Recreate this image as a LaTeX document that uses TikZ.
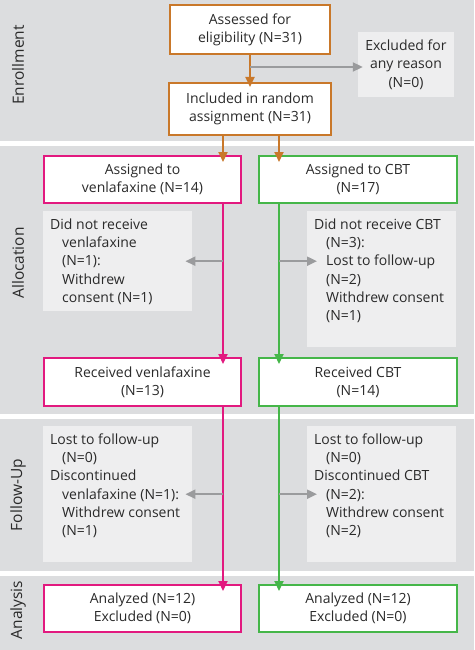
\documentclass[tikz,border=0pt]{standalone}
\usepackage{fontspec}
\setmainfont{Open Sans}
\usetikzlibrary{arrows.meta,calc}
\definecolor{band}{HTML}{DCDDDF}
\definecolor{gboxc}{HTML}{EEEEEF}
\definecolor{txt}{HTML}{2A2A2A}
\definecolor{orng}{HTML}{C9782A}
\definecolor{mag}{HTML}{E2197F}
\definecolor{grn}{HTML}{45B649}
\definecolor{garr}{HTML}{9A9B9D}
\newcommand\bt{\fontsize{14}{18.3}\selectfont}
\newcommand\ind{\hspace*{12pt}}
\newcommand\gtext[3]{\parbox[c][#1][t]{#2}{\raggedright\hyphenpenalty=10000\rule{0pt}{18pt}#3}}
\begin{document}
\begin{tikzpicture}[x=1pt,y=-1pt,
  lab/.style={rotate=90, font=\fontsize{15.5}{18}\selectfont, text=txt},
  wbox/.style={draw=#1, line width=2pt, fill=white, align=center, inner sep=0pt, font=\bt, text=txt},
  gbox/.style={fill=gboxc, inner xsep=7pt, inner ysep=0pt, anchor=north west, text=txt, font=\bt, align=left},
  arr/.style={-{Triangle[width=9pt,length=10pt]}, line width=2pt, shorten >=-7pt},
  garrow/.style={arr, draw=garr, fill=garr}
]
\useasboundingbox (0,0) rectangle (474,650);
\fill[white] (0,0) rectangle (474,650);
% bands
\fill[band] (0,0) rectangle (474,141);
\fill[band] (0,146) rectangle (474,414);
\fill[band] (0,419) rectangle (474,571);
\fill[band] (0,576) rectangle (474,650);
% labels
\node[lab] (lenr) at (18,65) {Enrollment};
\node[lab] (lall) at (18,263) {Allocation};
\node[lab] (lfol) at (18,495) {Follow-Up};
\node[lab] (lana) at (18,610) {Analysis};
% coordinates for vertical lines
\coordinate (lx) at (223,0);
\coordinate (rx) at (279,0);
% enrollment
\node[wbox=orng, minimum width=160, minimum height=49] (assess) at (250,29.5) {Assessed for\\eligibility (N=31)};
\node[wbox=orng, minimum width=162, minimum height=52] (incl) at (250,109) {Included in random\\assignment (N=31)};
\node[fill=gboxc, minimum width=96, minimum height=65, inner sep=0pt, align=center, font=\bt, text=txt] (excl) at (406,64.5) {Excluded for\\any reason\\(N=0)};
% allocation
\node[wbox=mag, minimum width=197, minimum height=47] (av) at (142.5,179.5) {Assigned to\\venlafaxine (N=14)};
\node[wbox=grn, minimum width=198, minimum height=47] (ac) at (358,179.5) {Assigned to CBT\\(N=17)};
\node[gbox] (dv) at (43,211) {\gtext{100pt}{135pt}{Did not receive\\\ind venlafaxine\\\ind (N=1):\\\ind Withdrew\\\ind consent (N=1)}};
\node[gbox] (dc) at (307,211) {\gtext{136pt}{135pt}{Did not receive CBT\\\ind (N=3):\\\ind Lost to follow-up\\\ind (N=2)\\\ind Withdrew consent\\\ind (N=1)}};
\node[wbox=mag, minimum width=197, minimum height=48] (rv) at (142.5,382) {Received venlafaxine\\(N=13)};
\node[wbox=grn, minimum width=198, minimum height=48] (rc) at (358,382) {Received CBT\\(N=14)};
% follow-up
\node[gbox] (lv) at (43,426) {\gtext{136pt}{135pt}{Lost to follow-up\\\ind (N=0)\\Discontinued\\\ind venlafaxine (N=1):\\\ind Withdrew consent\\\ind (N=1)}};
\node[gbox] (lc) at (307,426) {\gtext{136pt}{135pt}{Lost to follow-up\\\ind (N=0)\\Discontinued CBT\\\ind (N=2):\\\ind Withdrew consent\\\ind (N=2)}};
% analysis
\node[wbox=mag, minimum width=197, minimum height=47] (anv) at (142.5,608.5) {Analyzed (N=12)\\Excluded (N=0)};
\node[wbox=grn, minimum width=198, minimum height=47] (anc) at (358,608.5) {Analyzed (N=12)\\Excluded (N=0)};
% connectors
\draw[arr, draw=orng, fill=orng, shorten >=-5pt] (assess.south) -- (incl.north);
\coordinate (exb) at (250,67);
\draw[garrow, shorten >=-5pt] (exb) -- (exb -| excl.west);
\draw[arr, draw=orng, fill=orng] (incl.south -| lx) -- (av.north -| lx);
\draw[arr, draw=orng, fill=orng] (incl.south -| rx) -- (ac.north -| rx);
\draw[arr, draw=mag, fill=mag] (av.south -| lx) -- (rv.north -| lx);
\draw[arr, draw=grn, fill=grn] (ac.south -| rx) -- (rc.north -| rx);
\draw[arr, draw=mag, fill=mag] (rv.south -| lx) -- (anv.north -| lx);
\draw[arr, draw=grn, fill=grn] (rc.south -| rx) -- (anc.north -| rx);
\draw[garrow] (dv.east -| lx) -- (dv.east);
\draw[garrow, shorten >=-10pt] (dv.east -| rx) -- (dv.east -| dc.west);
\draw[garrow] (lv.east -| lx) -- (lv.east);
\draw[garrow, shorten >=-10pt] (lv.east -| rx) -- (lv.east -| lc.west);
\end{tikzpicture}
\end{document}
